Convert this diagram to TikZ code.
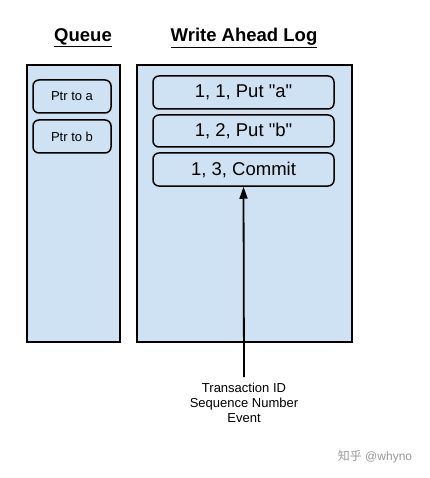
\documentclass[tikz,border=0pt]{standalone}
\usepackage{fontspec}
\setmainfont{Liberation Sans}[Ligatures=TeXOff]
\newfontfamily\cjkfont{Noto Sans CJK SC}
\usetikzlibrary{arrows.meta}
\definecolor{panelblue}{RGB}{207,226,243}
\tikzset{
  panel/.style={draw=black, line width=1.5pt, fill=panelblue},
  entry/.style={draw=black, line width=1.5pt, fill=panelblue, rounded corners=6pt, inner sep=0pt},
  title/.style={font=\fontsize{18.5}{20}\selectfont\bfseries, inner sep=0pt},
  conn/.style={line width=1.8pt, -{Triangle[length=12pt,width=8pt]}}
}
\begin{document}
\begin{tikzpicture}[x=1pt,y=-1pt]
\useasboundingbox (0,0) rectangle (429,478);
% titles
\node[title] (tq) at (83,38) {\underline{Queue}};
\node[title] (tw) at (244,38) {\underline{Write Ahead Log}};
% panels
\draw[panel] (27,65) rectangle (120,342);
\draw[panel] (137,65) rectangle (352,342);
% queue entries
\node[entry, minimum width=78pt, minimum height=33pt, font=\fontsize{13}{15}\selectfont] (pa) at (72,96.5) {Ptr to a};
\node[entry, minimum width=78pt, minimum height=33pt, font=\fontsize{13}{15}\selectfont] (pb) at (72,136.5) {Ptr to b};
% WAL entries
\node[entry, minimum width=181pt, minimum height=33pt, font=\fontsize{18.5}{20}\selectfont] (w1) at (243.5,92.5) {1, 1, Put "a"};
\node[entry, minimum width=181pt, minimum height=32pt, font=\fontsize{18.5}{20}\selectfont] (w2) at (243.5,131) {1, 2, Put "b"};
\node[entry, minimum width=181pt, minimum height=33pt, font=\fontsize{18.5}{20}\selectfont] (w3) at (243.5,169.5) {1, 3, Commit};
% label
\node[align=center, font=\fontsize{13}{15}\selectfont, inner sep=0pt, anchor=north] (lbl) at (244,383) {Transaction ID\\Sequence Number\\Event};
\coordinate (arrstart) at (244,377);
\draw[conn] (arrstart) -- (w3.south);
% watermark
\node[text=black!40, font=\fontsize{12}{14}\selectfont, inner sep=0pt] (wm) at (375,457) {{\cjkfont 知乎} @whyno};
\end{tikzpicture}
\end{document}
